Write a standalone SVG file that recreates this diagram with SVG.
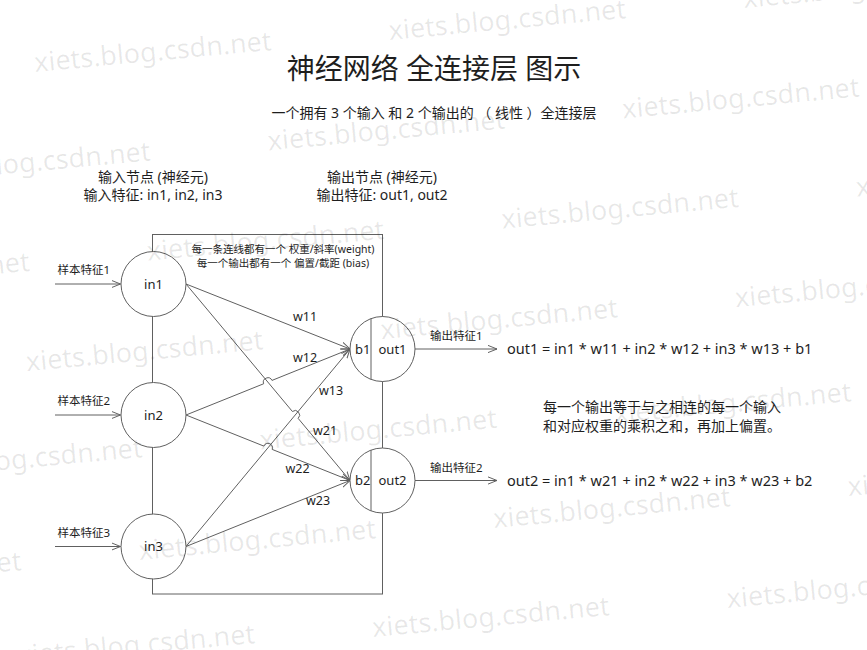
<svg xmlns="http://www.w3.org/2000/svg" width="867" height="650" viewBox="0 0 867 650">
<style>
text{font-family:"Noto Sans","Noto Sans CJK SC",sans-serif;fill:#1e1e1e}
.t{font-size:28px}
.s{font-size:14px}
.h{font-size:14px;text-anchor:middle}
.n{font-size:13px;text-anchor:middle}
.b{font-size:13px}
.w{font-size:12.5px}
.f{font-size:11.5px}
.note{font-size:10.5px;text-anchor:middle}
.eq{font-size:14.5px}
.ln{fill:none;stroke:#606060;stroke-width:1}
.c{fill:#fff;stroke:#606060;stroke-width:1}
.wm{font-size:27px;fill:#000;fill-opacity:0.09}
</style>
<defs>
<marker id="ar" viewBox="0 0 10 10" refX="10" refY="5" markerWidth="9" markerHeight="9" markerUnits="userSpaceOnUse" orient="auto">
<path d="M0,1 L10,5 L0,9" fill="none" stroke="#606060" stroke-width="1.1"/>
</marker>
</defs>
<rect width="867" height="650" fill="#fff"/>

<g id="titles">
<text class="t" x="434" y="79" text-anchor="middle">神经网络 全连接层 图示</text>
<text class="s" x="434" y="118" text-anchor="middle">一个拥有 3 个输入 和 2 个输出的 （ 线性 ）全连接层</text>
<text class="h" x="153" y="182">输入节点 (神经元)</text>
<text class="h" x="153" y="200">输入特征: in1, in2, in3</text>
<text class="h" x="382" y="182">输出节点 (神经元)</text>
<text class="h" x="382" y="200">输出特征: out1, out2</text>
</g>

<g id="layer-box">
<rect class="ln" x="152.5" y="234.5" width="230" height="359.5"/>
<text class="note" x="283" y="253">每一条连线都有一个 权重/斜率(weight)</text>
<text class="note" x="283" y="266.5">每一个输出都有一个 偏置/截距 (bias)</text>
</g>

<g id="connectors">
<path class="ln" d="M55,284 L120.5,284" marker-end="url(#ar)"/>
<path class="ln" d="M55,415 L120.5,415" marker-end="url(#ar)"/>
<path class="ln" d="M55,546.5 L120.5,546.5" marker-end="url(#ar)"/>
<path class="ln" d="M186,284 L350,349" marker-end="url(#ar)"/>
<path class="ln" d="M186,415 L263.63,383.78 A4.5,4.5 0 0 1 271.97,380.42 L350,349" marker-end="url(#ar)"/>
<path class="ln" d="M186,546.5 L350,349" marker-end="url(#ar)"/>
<path class="ln" d="M186,284 L292.38,411.47 A4.5,4.5 0 0 1 298.14,418.37 L350,480.5" marker-end="url(#ar)"/>
<path class="ln" d="M186,415 L263.82,446.08 A4.5,4.5 0 0 1 272.18,449.42 L350,480.5" marker-end="url(#ar)"/>
<path class="ln" d="M186,546.5 L350,480.5" marker-end="url(#ar)"/>
<path class="ln" d="M415,349 L497,349" marker-end="url(#ar)"/>
<path class="ln" d="M415,480.5 L497,480.5" marker-end="url(#ar)"/>
<text class="w" x="293" y="321">w11</text>
<text class="w" x="293" y="361.5">w12</text>
<text class="w" x="319" y="395">w13</text>
<text class="w" x="313" y="435">w21</text>
<text class="w" x="285.5" y="472.5">w22</text>
<text class="w" x="306" y="505">w23</text>
<text class="f" x="57.5" y="274">样本特征1</text>
<text class="f" x="57.5" y="405">样本特征2</text>
<text class="f" x="57.5" y="536.5">样本特征3</text>
<text class="f" x="430" y="340">输出特征1</text>
<text class="f" x="430" y="471.5">输出特征2</text>
</g>

<g id="in1"><circle class="c" cx="153.5" cy="284" r="32.5"/><text class="n" x="153.5" y="288.5">in1</text></g>
<g id="in2"><circle class="c" cx="153.5" cy="415" r="32.5"/><text class="n" x="153.5" y="419.5">in2</text></g>
<g id="in3"><circle class="c" cx="153.5" cy="546.5" r="32.5"/><text class="n" x="153.5" y="551">in3</text></g>
<g id="out1"><circle class="c" cx="382.5" cy="349" r="32.5"/><line class="ln" x1="371" y1="318.6" x2="371" y2="379.4"/><text class="b" x="355" y="353.5">b1</text><text class="b" x="378.5" y="353.5">out1</text></g>
<g id="out2"><circle class="c" cx="382.5" cy="480.5" r="32.5"/><line class="ln" x1="371" y1="450.1" x2="371" y2="510.9"/><text class="b" x="355" y="485">b2</text><text class="b" x="378.5" y="485">out2</text></g>

<g id="formulas">
<text class="eq" x="507" y="354">out1 = in1 * w11 + in2 * w12 + in3 * w13 + b1</text>
<text class="s" x="543" y="412">每一个输出等于与之相连的每一个输入</text>
<text class="s" x="543" y="431">和对应权重的乘积之和，再加上偏置。</text>
<text class="eq" x="507" y="486">out2 = in1 * w21 + in2 * w22 + in3 * w23 + b2</text>
</g>

<g id="watermarks">
<text class="wm" transform="translate(35,72) rotate(-5.3)">xiets.blog.csdn.net</text>
<text class="wm" transform="translate(389.5,40) rotate(-5.3)">xiets.blog.csdn.net</text>
<text class="wm" transform="translate(744,8) rotate(-5.3)">xiets.blog.csdn.net</text>
<text class="wm" transform="translate(268.6,150.4) rotate(-5.3)">xiets.blog.csdn.net</text>
<text class="wm" transform="translate(623,118.4) rotate(-5.3)">xiets.blog.csdn.net</text>
<text class="wm" transform="translate(-86,182.4) rotate(-5.3)">xiets.blog.csdn.net</text>
<text class="wm" transform="translate(502.2,228.8) rotate(-5.3)">xiets.blog.csdn.net</text>
<text class="wm" transform="translate(856.7,196.8) rotate(-5.3)">xiets.blog.csdn.net</text>
<text class="wm" transform="translate(147.7,260.8) rotate(-5.3)">xiets.blog.csdn.net</text>
<text class="wm" transform="translate(-206.8,292.8) rotate(-5.3)">xiets.blog.csdn.net</text>
<text class="wm" transform="translate(735.8,307.2) rotate(-5.3)">xiets.blog.csdn.net</text>
<text class="wm" transform="translate(381.3,339.2) rotate(-5.3)">xiets.blog.csdn.net</text>
<text class="wm" transform="translate(26.8,371.2) rotate(-5.3)">xiets.blog.csdn.net</text>
<text class="wm" transform="translate(614.9,423) rotate(-5.3)">xiets.blog.csdn.net</text>
<text class="wm" transform="translate(260.4,449.6) rotate(-5.3)">xiets.blog.csdn.net</text>
<text class="wm" transform="translate(-94,479) rotate(-5.3)">xiets.blog.csdn.net</text>
<text class="wm" transform="translate(848.5,496) rotate(-5.3)">xiets.blog.csdn.net</text>
<text class="wm" transform="translate(494,528) rotate(-5.3)">xiets.blog.csdn.net</text>
<text class="wm" transform="translate(139.5,560) rotate(-5.3)">xiets.blog.csdn.net</text>
<text class="wm" transform="translate(-215,592) rotate(-5.3)">xiets.blog.csdn.net</text>
<text class="wm" transform="translate(727.6,608) rotate(-5.3)">xiets.blog.csdn.net</text>
<text class="wm" transform="translate(373.1,637) rotate(-5.3)">xiets.blog.csdn.net</text>
<text class="wm" transform="translate(18.6,665) rotate(-5.3)">xiets.blog.csdn.net</text>
</g>
</svg>
